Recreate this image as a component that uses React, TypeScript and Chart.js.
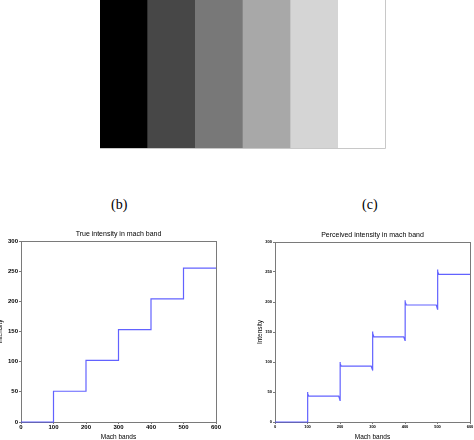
import React, { useEffect, useRef } from "react";
import { Chart, registerables } from "chart.js";
Chart.register(...registerables);

// ---- data ----
const bandLabels = ["1", "2", "3", "4", "5", "6"];
const bandValues = [1, 1, 1, 1, 1, 1];
const bandGrays = ["#000000", "#474747", "#787878", "#a8a8a8", "#d5d5d5", "#ffffff"];

const trueX = [0, 100, 200, 300, 400, 500, 600];
const trueY = [0, 51, 102, 153, 204, 255, 255];

const perceivedX = [0, 100, 100, 101, 104, 196, 198, 200, 200, 201, 204, 296, 298, 300, 300, 301, 304, 396, 398, 400, 400, 401, 404, 496, 498, 500, 500, 501, 504, 600];
const perceivedY = [0, 0, 50, 47, 43, 43, 40, 36, 100, 97, 93, 93, 90, 87, 151, 148, 142, 142, 139, 136, 203, 200, 195, 195, 192, 188, 254, 251, 246, 246];

const xTickValues = [0, 100, 200, 300, 400, 500, 600];
const yTickValues = [0, 50, 100, 150, 200, 250, 300];

const FAMILY = "'Liberation Sans', Arial, sans-serif";
const AX = "#7a7a7a";
const LINE = "rgba(70,70,255,0.85)";

const boxPlugin = {
  id: "box",
  beforeDatasetsDraw(chart: any) {
    const { left, top, right, bottom } = chart.chartArea;
    const ctx = chart.ctx;
    ctx.save();
    ctx.strokeStyle = AX;
    ctx.lineWidth = 1;
    ctx.strokeRect(Math.round(left) + 0.5, Math.round(top) + 0.5, Math.round(right - left), Math.round(bottom - top));
    ctx.restore();
  },
};

const edgePlugin = {
  id: "edge",
  afterDraw(chart: any) {
    const { left, top, right, bottom } = chart.chartArea;
    const ctx = chart.ctx;
    ctx.save();
    ctx.strokeStyle = "#c8c8c8";
    ctx.lineWidth = 1;
    ctx.beginPath();
    ctx.moveTo(left, bottom - 0.5);
    ctx.lineTo(right - 0.5, bottom - 0.5);
    ctx.lineTo(right - 0.5, top);
    ctx.stroke();
    ctx.restore();
  },
};

function lineConfig(o: any) {
  const tickFont = { family: FAMILY, size: o.tickSize, weight: o.tickWeight };
  const labelFont = { family: FAMILY, size: 6.5 };
  return {
    type: "scatter",
    data: {
      datasets: [
        {
          data: o.xs.map((x: number, i: number) => ({ x, y: o.ys[i] })),
          showLine: true,
          stepped: o.stepped,
          borderColor: LINE,
          borderWidth: 1.2,
          pointRadius: 0,
          clip: false,
        },
      ],
    },
    options: {
      responsive: false,
      animation: false,
      events: [],
      layout: { padding: { left: 0, right: o.padRight, top: 0, bottom: 0 } },
      plugins: {
        legend: { display: false },
        tooltip: { enabled: false },
        title: {
          display: true,
          text: o.title,
          fullSize: false,
          color: "#000",
          font: { family: FAMILY, size: 7, weight: "normal" },
          padding: { top: 0, bottom: 2.6 },
        },
      },
      scales: {
        x: {
          type: "linear",
          min: 0,
          max: 600,
          afterBuildTicks: (s: any) => {
            s.ticks = xTickValues.map((v) => ({ value: v }));
          },
          afterFit: (s: any) => {
            s.height = o.xh;
          },
          ticks: { font: tickFont, color: "#000", padding: 0, maxRotation: 0, autoSkip: false },
          grid: { drawOnChartArea: false, tickLength: 2, color: AX },
          border: { color: AX },
          title: { display: true, text: "Mach bands", color: "#000", font: labelFont, padding: 0 },
        },
        y: {
          type: "linear",
          min: 0,
          max: 300,
          afterBuildTicks: (s: any) => {
            s.ticks = yTickValues.map((v) => ({ value: v }));
          },
          afterFit: (s: any) => {
            s.width = o.yw;
          },
          ticks: { font: tickFont, color: "#000", padding: 1, autoSkip: false },
          grid: { drawOnChartArea: false, tickLength: 2, color: AX },
          border: { color: AX },
          title: { display: true, text: "Intensity", color: "#000", font: labelFont, padding: 0 },
        },
      },
    },
    plugins: [boxPlugin],
  };
}

function useChart(ref: React.RefObject<HTMLCanvasElement>, make: () => any) {
  useEffect(() => {
    const chart = new Chart(ref.current as HTMLCanvasElement, make());
    return () => chart.destroy();
  }, []);
}

function Canvas({ left, top, width, height, make }: any) {
  const ref = useRef<HTMLCanvasElement>(null);
  useChart(ref, make);
  return (
    <canvas
      ref={ref}
      width={width}
      height={height}
      style={{ position: "absolute", left, top, width, height, display: "block" }}
    />
  );
}

export default function App() {
  const bandsConfig = () => ({
    type: "bar",
    data: {
      labels: bandLabels,
      datasets: [
        {
          data: bandValues,
          backgroundColor: bandGrays,
          borderWidth: 0,
          categoryPercentage: 1,
          barPercentage: 1,
        },
      ],
    },
    options: {
      responsive: false,
      animation: false,
      events: [],
      layout: { padding: 0 },
      plugins: { legend: { display: false }, tooltip: { enabled: false } },
      scales: {
        x: { display: false },
        y: { display: false, min: 0, max: 1 },
      },
    },
    plugins: [edgePlugin],
  });

  const leftConfig = () =>
    lineConfig({
      xs: trueX,
      ys: trueY,
      stepped: true,
      title: "True intensity in mach band",
      tickSize: 6,
      tickWeight: "bold",
      padRight: 20,
      xh: 19,
      yw: 25,
    });

  const rightConfig = () =>
    lineConfig({
      xs: perceivedX,
      ys: perceivedY,
      stepped: false,
      title: "Perceived intensity in mach band",
      tickSize: 4,
      tickWeight: "bold",
      padRight: 4,
      xh: 19,
      yw: 19,
    });

  const labelStyle: React.CSSProperties = {
    position: "absolute",
    top: 196,
    fontFamily: "'Liberation Serif', 'Times New Roman', serif",
    fontSize: 14,
    lineHeight: "18px",
    color: "#000",
    whiteSpace: "nowrap",
  };

  return (
    <div
      style={{
        position: "absolute",
        left: 0,
        top: 0,
        width: 474,
        height: 440,
        overflow: "hidden",
        background: "#fff",
      }}
    >
      <Canvas left={100} top={0} width={286} height={149} make={bandsConfig} />
      <div style={{ ...labelStyle, left: 111 }}>(b)</div>
      <div style={{ ...labelStyle, left: 362 }}>(c)</div>
      <Canvas left={-4} top={230} width={240} height={211} make={leftConfig} />
      <Canvas left={256} top={231} width={218} height={210} make={rightConfig} />
    </div>
  );
}
